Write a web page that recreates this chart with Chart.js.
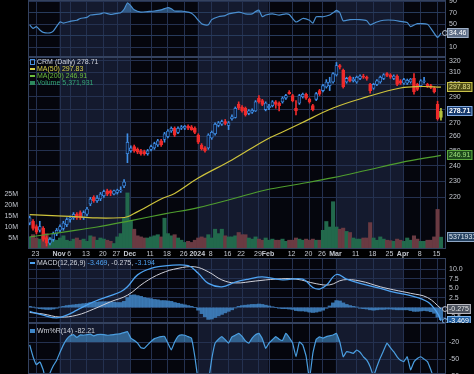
<!DOCTYPE html>
<html>
<head>
<meta charset="utf-8">
<title>CRM daily</title>
<script src="https://cdn.jsdelivr.net/npm/chart.js@4.4.1/dist/chart.umd.min.js"></script>
<style>
  html, body { margin: 0; padding: 0; background: #000; }
  body { width: 474px; height: 374px; position: relative; overflow: hidden;
         font-family: 'Liberation Sans', Arial, sans-serif; }
  canvas { position: absolute; left: 0; }
  .leg { position: absolute; left: 30px; font-size: 7px; line-height: 7px; white-space: nowrap; color: #cfd3dc; }
  .leg i { display: inline-block; vertical-align: middle; margin-right: 2px; }
</style>
</head>
<body>
<canvas id="rsi" width="474" height="57" style="top:0"></canvas>
<canvas id="price" width="474" height="201" style="top:57px"></canvas>
<canvas id="macd" width="474" height="65" style="top:258px"></canvas>
<canvas id="wpr" width="474" height="51" style="top:323px"></canvas>

<div class="leg" style="top:58px">
  <div><i style="width:3px;height:4px;border:1px solid #4a90e0"></i>CRM (Daily) 278.71</div>
  <div style="color:#d6cf48"><i style="width:5px;height:2px;background:#d6cf48"></i>MA(50) 297.83</div>
  <div style="color:#6cbf3e"><i style="width:5px;height:2px;background:#6cbf3e"></i>MA(200) 246.91</div>
  <div style="color:#34a877"><i style="width:5px;height:4px;background:#2c8a5e"></i>Volume 5,371,931</div>
</div>
<div class="leg" style="top:259px"><i style="width:5px;height:2px;background:#4ea3f2"></i>MACD(12,26,9) <span style="color:#4ea3f2">-3.469</span>, -0.275, <span style="color:#4ea3f2">-3.194</span></div>
<div class="leg" style="top:327px"><i style="width:5px;height:4px;background:#3f86c8"></i>Wm%R(14) -82.21</div>

<script>
// day index 0 = 19 Oct 2023 ... 122 = 16 Apr 2024 (trading days)
const tickDays = [2, 9, 12, 17, 22, 26, 30, 36, 41, 46, 50, 54, 59, 63, 68, 71, 78, 83, 87, 91, 97, 102, 107, 111, 116, 121];
const tickText = ['23', 'Nov', '6', '13', '20', '27', 'Dec', '11', '18', '26', '2024', '8', '16', '22', '29', 'Feb', '12', '20', '26', 'Mar', '11', '18', '25', 'Apr', '8', '15'];
const monthDays = [9, 30, 50, 71, 91, 111];
const shadedMonths = [[9, 30], [50, 71], [91, 111]];

const opens = [205,206,203,201,202,197,194,196,199,201,
  202,204,207,208,210,211,208,210,216,220,
  218,219,221,224,224,222,223,224,227,248,
  250,253,251,250,249.5,248,251,252,254,257,
  258,260,264,266,263,266,266,267.5,267,266,
  261,254,252,252,259,262,268,269,271,268,
  273,274,284,282,281,277,278,279,289,287,
  280,281.5,283,286,285,286,289,293.5,291,281,
  285,290,292,288,283,288,295,295,298,299,
  302,308,316,312,302,306,303,302,305,307,
  306,300,297,300,302,305,309,308,305,307,
  303,301,301,302,305,300,299,302.5,300,299,
  297,284,274];
const highs = [209,207,204,206,203,198,197,200,202,204,
  206,208,209,211,211,212,212,214,220,221,
  221,223,224.5,225,224.5,224.5,225,226.5,231,262,
  253.5,254,252,251,250.5,251,254,256,258,258,
  263,265,267,267,267,268,268,268.5,268,267,
  262,255,253,262,264,270,271,272,272.5,271,
  276,282,286,283,282,280,280.5,287,291,288,
  286,284,287,287,286,290,292,295,292,287,
  292,293,293,289,284,293.5,296,300,304,306,
  310,318.7,317,313,306,307,306,307,308,308.5,
  307,301,301,304,307,309,310,309,308,308,
  304,305,304.5,305,309,301,304,306,301,300,
  298,286.5,281];
const lows = [204,201,199,200,195,192.5,193,195,198,200,
  201,203,205.5,207,207,207,207,209,215,217,
  217,218,220,221,221,221.5,222,223,226,242,
  249,249,248,247,247,247,250,251,253,253,
  256,259,263,260,262,265,265,265,264.5,262,
  255,250.5,249,251,258,261,267,268,268.5,265,
  272,273.5,280,278,275,276,277,278.5,285,283,
  279,280,282,281,279,285,288,292,286,276,
  284,289,288,285,279,287,291,294,297,295,
  301,307,313,297,301,302,302,301,304,305,
  303.5,293,296,299,301,304,306.5,305,304,299,
  300,300,300,301,292,295,298,301,297.5,296.5,
  293,272,272];
const closes = [208,202,200,203,196,194,196,199,201,203,
  205,207,208,210,208,208,211,213,219,218,
  219.5,222,223.5,222,222.5,224,224.5,224.5,229.5,256,
  252,250,249,248,248,250,253,255,257,254,
  262,264,266,261,266,267,267.5,266,265,263,
  256,251.5,250,261,263,269,270,271,269.5,270,
  274.5,281,281,279,276,279,279.5,286,286,284,
  285,282.5,286,284,283,289,291,292.5,287,279,
  291,292,289,286,280,292.5,292,299,302,302,
  309,316,314.5,298,305,303,304.5,306,307,306,
  305,295,300,303,306,308,307.5,306,307,300,
  301,304,303.5,304.5,294,296,303,303,298.5,297.5,
  294,273,278.71];
// volume, millions of shares
const volume = [5.5,6.5,5,4.5,6,7,5,4.5,4,5,
  6,4,3.5,4.5,5,4,4.5,3.5,6,5.5,
  4,5,4.5,4,3.5,2.5,5.5,7,14,25.5,
  13,9,6,5.5,5,5,5.5,6,6.5,5.5,
  14,7,6,6.5,5,4,3,3.5,3,4,
  5,5.5,5,6.5,5,9,7,9,6,5.5,
  5.5,6,7.5,6.5,6.5,5,4.5,5.5,4.5,4,
  5,4,4.5,4,4,4.5,3.5,4,4,5,
  4.5,4,4.5,4,4.5,4,4,8.5,12.5,10,
  21.5,10,9,9.5,8,7.5,5,4.5,4.5,5,
  5,12,5,4,5.5,4.5,4,3.8,3.5,4.5,
  4,3.5,5,4,6,4.5,3.5,3.5,4,4,
  5.5,18,5.37];

const ma50Day = [0, 10, 20, 27, 29, 31, 34, 39, 43, 50, 60, 70, 75, 80, 90, 100, 110, 116, 122];
const ma50 = [209.8, 209, 207.9, 208, 208.6, 210.5, 213.5, 219, 222.4, 232, 243.8, 257.6, 263.3, 269.1, 281.2, 289.9, 297.1, 298.3, 297.83];
const ma200Day = [0, 10, 20, 30, 40, 50, 60, 70, 80, 90, 100, 110, 122];
const ma200 = [197.3, 200, 202.8, 206.4, 210.2, 213.9, 219, 224.5, 228.2, 232.2, 237, 242, 246.91];

const rsiDay = [0,1,2,3,4,6,7,9,10,12,14,15,17,18,21,22,24,25,26,27,28,29,30,31,33,35,37,39,41,42,43,45,47,48,49,50,51,52,53,54,56,58,59,62,63,64,66,67,68,69,70,72,74,76,77,79,81,83,84,85,87,89,90,91,92,93,95,98,100,101,103,105,108,110,112,113,115,118,119,121,122];
const rsi = [49,43,46,40,36,35,38,54,52,55,57,60,62,66,68,70,67,68,69,70,76,87,82,75,71,72,73,75,79,77,73,73,71,69,64,57,51,49,49,58,63,65,68,71,70,68,68,72,74.5,63,66,68,66,68,67,54,60,57,52,63,63,66,70,74,70,56,58,58,56,49,54,57,57,55,53,46,51,50,43,27,34.46];

const macdDay = [0, 4, 8, 11, 14, 19, 24, 27, 29, 32, 36, 41, 47, 50, 53, 57, 61, 65, 69, 75, 81, 84, 86, 88, 91, 94, 98, 104, 108, 113, 118, 121, 122];
const macd = [-1.0, -2.0, -2.7, -2.0, -0.7, 1.5, 3.1, 4.1, 5.4, 8.5, 10.2, 10.9, 10.9, 8.9, 6.3, 5.4, 6.6, 7.4, 8.0, 7.2, 7.4, 5.2, 4.8, 5.8, 8.6, 7.4, 6.3, 5.0, 4.0, 3.1, 1.5, -1.5, -3.469];
const signalDay = [0, 4, 9, 14, 19, 24, 29, 34, 39, 44, 49, 53, 57, 61, 67, 73, 79, 85, 89, 93, 98, 104, 108, 113, 118, 122];
const signal = [-1.3, -1.7, -2.5, -2.0, -0.4, 1.5, 3.2, 6.5, 8.9, 10.2, 10.6, 9.3, 7.2, 6.4, 6.9, 7.4, 7.4, 6.2, 5.9, 7.2, 6.9, 5.4, 4.6, 3.7, 2.6, -0.275];
const hist = [0.3,0.1,-0.1,-0.3,-0.4,-0.5,-0.5,-0.4,-0.2,0.1,
  0.3,0.5,0.6,0.7,0.8,0.9,1.0,1.1,1.3,1.4,
  1.4,1.5,1.5,1.5,1.5,1.4,1.3,1.3,1.6,2.6,
  3.2,3.3,3.1,2.9,2.6,2.4,2.3,2.1,2.0,1.8,
  1.8,1.7,1.6,1.3,1.1,0.9,0.7,0.5,0.3,0.0,
  -0.7,-1.6,-2.4,-3.1,-3.0,-2.6,-2.2,-1.8,-1.4,-1.0,
  -0.6,-0.1,0.3,0.5,0.6,0.7,0.8,0.8,0.9,0.8,
  0.6,0.4,0.2,0.0,-0.2,-0.3,-0.3,-0.4,-0.5,-0.8,
  -0.9,-0.9,-1.0,-1.2,-1.3,-1.2,-1.0,-0.7,-0.2,0.4,
  1.2,1.8,1.7,1.2,0.8,0.5,0.3,0.1,-0.2,-0.3,
  -0.4,-0.6,-0.7,-0.6,-0.5,-0.5,-0.4,-0.4,-0.5,-0.6,
  -0.6,-0.6,-0.6,-0.8,-1.0,-1.0,-0.9,-0.8,-0.9,-1.1,
  -1.5,-2.5,-3.194];

const willR = [-25,-46,-60,-55,-69,-92,-75,-62,-52,-38,
  -25,-15,-9,-7,-12,-7.5,-8,-7,-6,-9,
  -7,-6.5,-7,-8,-7.5,-7,-6,-5,-3.4,-1.6,
  -13,-17,-22,-30,-31,-25,-19,-14,-12,-10.5,
  -10,-22,-34,-20,-10,-7.5,-8,-10.5,-13,-46,
  -88,-95,-97,-90,-50,-22,-15,-10.5,-16,-22,
  -11,-8,-4.6,-10,-18,-22,-13,-7,-4.6,-14,
  -31,-22,-16,-10.5,-15,-17,-4.6,-12,-22,-46,
  -20,-25,-45,-85,-40,-15,-11,-13,-10.5,-9,
  -7.5,-4.6,-20,-46,-37,-38,-40,-34,-38,-46,
  -52,-63.5,-80,-63.5,-48,-35,-22,-30,-37,-46,
  -52,-54.6,-46,-69,-55,-49,-46,-50,-54.6,-69,
  -85,-88,-82.21];

const priceTicks = [220, 230, 240, 250, 260, 270, 280, 290, 300, 310, 320];
const volTicks = [5, 10, 15, 20, 25];
const rsiTicks = [10, 30, 50, 70, 90];
const macdTicks = [-2.5, 0, 2.5, 5, 7.5, 10];
const wprTicks = [-80, -50, -20];

const FONT = "'Liberation Sans', Arial, sans-serif";
const GRID = '#243150';
const TICK = '#c3c7cf';
const last = closes.length - 1;

const pts = (xs, ys) => xs.map((x, i) => ({x: x, y: ys[i]}));
const isUp = i => closes[i] >= opens[i];
const edgeColor = i => i === last ? '#b4c23c' : (isUp(i) ? '#3f8fe8' : '#ee2b2b');
const bodyColor = i => i === last ? '#b4c23c' : (isUp(i) ? '#0d1a38' : '#ee2b2b');

const panelPlugin = {
  id: 'panel',
  beforeDraw(chart) {
    const {ctx, chartArea: a, scales} = chart;
    const x = scales.x;
    ctx.save();
    ctx.fillStyle = '#05060d';
    ctx.fillRect(a.left, a.top, a.right - a.left, a.bottom - a.top);
    ctx.fillStyle = '#141a2e';
    shadedMonths.forEach(([s, e]) => {
      const x0 = x.getPixelForValue(s - 0.2), x1 = x.getPixelForValue(e - 0.2);
      ctx.fillRect(x0, a.top, x1 - x0, a.bottom - a.top);
    });
    ctx.restore();
  },
  afterDraw(chart, args, opts) {
    const {ctx, chartArea: a} = chart;
    ctx.save();
    ctx.strokeStyle = '#34425f';
    ctx.lineWidth = 1;
    ctx.strokeRect(a.left + 0.5, a.top + 0.5, a.right - a.left - 1, a.bottom - a.top - 1);
    (opts.tags || []).forEach(t => {
      const y = Math.round(chart.scales[t.axis].getPixelForValue(t.value));
      if (t.dot) {
        ctx.strokeStyle = t.dot;
        ctx.beginPath();
        ctx.arc(a.right - 1, y, 2.5, 0, Math.PI * 2);
        ctx.stroke();
      }
      ctx.font = (t.bold ? 'bold ' : '') + '7px ' + FONT;
      const w = ctx.measureText(t.text).width + 4;
      const x0 = a.right + 1;
      ctx.fillStyle = t.bg;
      ctx.fillRect(x0, y - 5, w, 10);
      ctx.strokeStyle = t.border;
      ctx.strokeRect(x0 + 0.5, y - 4.5, w - 1, 9);
      ctx.fillStyle = t.fg;
      ctx.textBaseline = 'middle';
      ctx.fillText(t.text, x0 + 2, y + 0.5);
    });
    ctx.restore();
  }
};
Chart.register(panelPlugin);

function xAxis(show) {
  return {
    type: 'linear', min: -0.5, max: 123.5, offset: false,
    afterBuildTicks: s => { s.ticks = tickDays.map(v => ({value: v})); },
    grid: {color: GRID, drawTicks: false, offset: false},
    border: {display: false},
    ticks: {
      display: show, autoSkip: false, maxRotation: 0, padding: 1, color: TICK,
      labelOffset: -1,
      font: c => ({family: FONT, size: 7, weight: (c.tick && monthDays.includes(c.tick.value)) ? 'bold' : 'normal'}),
      callback: (v, i) => tickText[i]
    },
    afterFit: s => { s.height = show ? 9 : 0; s.paddingLeft = 0; s.paddingRight = 0; }
  };
}

function yAxis(min, max, ticks, fmt, type) {
  return {
    type: type || 'linear', position: 'right', min: min, max: max,
    afterBuildTicks: s => { s.ticks = ticks.map(v => ({value: v})); },
    grid: {color: GRID, drawTicks: false},
    border: {display: false},
    ticks: {color: TICK, font: {family: FONT, size: 7}, padding: 3, autoSkip: false, callback: fmt},
    afterFit: s => { s.width = 28; s.paddingTop = 0; s.paddingBottom = 0; }
  };
}

function baseOptions(scales, tags, padLeft) {
  return {
    responsive: false, animation: false, events: [],
    layout: {padding: {left: padLeft, right: 0, top: 0, bottom: 0}},
    plugins: {legend: {display: false}, tooltip: {enabled: false}, panel: {tags: tags}},
    scales: scales
  };
}

// RSI
new Chart('rsi', {
  type: 'line',
  data: {datasets: [
    {data: pts(rsiDay, rsi), borderColor: '#4a8fd0', borderWidth: 1.2, pointRadius: 0, tension: 0.2,
     fill: {target: {value: 70}, above: 'rgba(74,143,208,0.55)', below: 'rgba(0,0,0,0)'}},
    {data: pts(rsiDay, rsi), borderWidth: 0, pointRadius: 0, tension: 0.2,
     fill: {target: {value: 30}, above: 'rgba(0,0,0,0)', below: 'rgba(74,143,208,0.55)'}}
  ]},
  options: baseOptions({
    x: xAxis(false),
    y: yAxis(-6.8, 92.1, rsiTicks, v => v)
  }, [{axis: 'y', value: 34.46, text: '34.46', bg: '#5d6d86', fg: '#ffffff', border: '#9fb0c8', dot: '#b8c0cc'}], 28)
});

// price, moving averages, volume
const dayIdx = closes.map((c, i) => i);
new Chart('price', {
  type: 'bar',
  data: {datasets: [
    {type: 'line', data: pts(ma50Day, ma50), borderColor: '#cfc43c', borderWidth: 1.2, pointRadius: 0, tension: 0.4, yAxisID: 'y', order: 1},
    {type: 'line', data: pts(ma200Day, ma200), borderColor: '#4f9e2e', borderWidth: 1.2, pointRadius: 0, tension: 0.4, yAxisID: 'y', order: 1},
    {data: dayIdx.map(i => ({x: i, y: [lows[i], highs[i]]})), backgroundColor: c => edgeColor(c.dataIndex),
     barThickness: 1, grouped: false, yAxisID: 'y', order: 3},
    {data: dayIdx.map(i => ({x: i, y: [opens[i], closes[i]]})), backgroundColor: c => bodyColor(c.dataIndex),
     borderColor: c => edgeColor(c.dataIndex), borderWidth: 0.8, borderSkipped: false,
     barThickness: 3, grouped: false, yAxisID: 'y', order: 2},
    {data: volume.map((v, i) => ({x: i, y: v})), backgroundColor: c => isUp(c.dataIndex) ? '#22694c' : '#6a3a42',
     barThickness: 3.4, grouped: false, yAxisID: 'vol', order: 5}
  ]},
  options: baseOptions({
    x: xAxis(true),
    y: yAxis(190.9, 323.5, priceTicks, v => String(v), 'logarithmic'),
    vol: {
      type: 'linear', position: 'left', min: 0, max: 87.3,
      afterBuildTicks: s => { s.ticks = volTicks.map(v => ({value: v})); },
      grid: {display: false}, border: {display: false},
      ticks: {color: TICK, font: {family: FONT, size: 7}, padding: 2, autoSkip: false, callback: v => v + 'M'},
      afterFit: s => { s.width = 28; s.paddingTop = 0; s.paddingBottom = 0; }
    }
  }, [
    {axis: 'y', value: 297.83, text: '297.83', bg: '#4f4d16', fg: '#e4e08a', border: '#c9c24a'},
    {axis: 'y', value: 278.71, text: '278.71', bg: '#173a6e', fg: '#ffffff', border: '#7fa7de', bold: true},
    {axis: 'y', value: 246.91, text: '246.91', bg: '#1d4a1c', fg: '#9ee07c', border: '#5aa83e'},
    {axis: 'vol', value: 5.371931, text: '5371931', bg: '#23405f', fg: '#dfe8f2', border: '#8ea6c4'}
  ], 0)
});

// MACD
new Chart('macd', {
  type: 'bar',
  data: {datasets: [
    {type: 'line', data: pts(macdDay, macd), borderColor: '#4ea3f2', borderWidth: 1.3, pointRadius: 0, tension: 0.4, order: 1},
    {type: 'line', data: pts(signalDay, signal), borderColor: '#cfd0d8', borderWidth: 1, pointRadius: 0, tension: 0.4, order: 2},
    {data: hist.map((v, i) => ({x: i, y: v})), backgroundColor: 'rgba(62,128,190,0.9)', barThickness: 3.4, grouped: false, order: 3}
  ]},
  options: baseOptions({
    x: xAxis(false),
    y: yAxis(-4.04, 12.9, macdTicks, v => v.toFixed(1))
  }, [
    {axis: 'y', value: -0.275, text: '-0.275', bg: '#4a505c', fg: '#e8e8e8', border: '#b8b8c0', dot: '#b8b8c0'},
    {axis: 'y', value: -3.469, text: '-3.469', bg: '#1f5c9c', fg: '#ffffff', border: '#7fb6ee', dot: '#7fb6ee'}
  ], 28)
});

// Williams %R
new Chart('wpr', {
  type: 'line',
  data: {datasets: [
    {data: willR.map((v, i) => ({x: i, y: v})), borderColor: '#4a9ee0', borderWidth: 1.2, pointRadius: 0, tension: 0.1,
     fill: {target: {value: -20}, above: 'rgba(74,158,224,0.55)', below: 'rgba(0,0,0,0)'}}
  ]},
  options: baseOptions({
    x: xAxis(false),
    y: yAxis(-76.4, 13.6, wprTicks, v => v)
  }, [], 28)
});
</script>
</body>
</html>
